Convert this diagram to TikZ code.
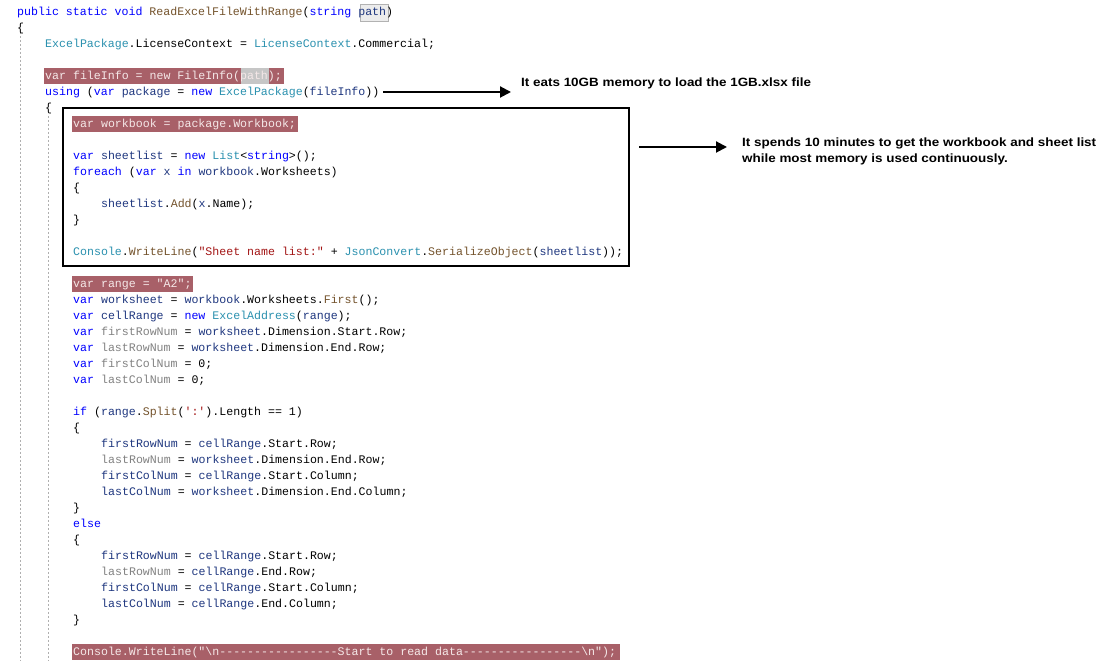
\documentclass[tikz,border=0pt]{standalone}
\usepackage{fontspec}
\usetikzlibrary{arrows.meta}
\newfontfamily\codefont{Liberation Mono}
\newfontfamily\notefont[FakeStretch=1.12]{Liberation Sans}
\definecolor{kw}{RGB}{0,0,255}
\definecolor{ty}{RGB}{43,145,175}
\definecolor{vr}{RGB}{31,55,127}
\definecolor{me}{RGB}{116,83,44}
\definecolor{st}{RGB}{163,21,21}
\definecolor{un}{RGB}{130,130,130}
\definecolor{hl}{RGB}{168,96,104}
\definecolor{hltext}{RGB}{245,232,232}
\definecolor{guide}{RGB}{175,175,175}
\newcommand\K[1]{\textcolor{kw}{#1}}
\newcommand\T[1]{\textcolor{ty}{#1}}
\newcommand\V[1]{\textcolor{vr}{#1}}
\newcommand\M[1]{\textcolor{me}{#1}}
\newcommand\St[1]{\textcolor{st}{#1}}
\newcommand\U[1]{\textcolor{un}{#1}}
\tikzset{
  code/.style={anchor=base west,inner sep=0pt,font=\codefont\fontsize{11.6}{14}\selectfont},
  hlcode/.style={code,text=hltext},
  note/.style={anchor=west,inner sep=0pt,align=left,font=\notefont\bfseries\fontsize{12}{16}\selectfont},
  arr/.style={line width=2pt,-{Triangle[length=11pt,width=11pt]}},
  guideline/.style={guide,dash pattern=on 2pt off 2pt,line width=0.8pt}
}
\begin{document}
\begin{tikzpicture}[x=1pt,y=1pt]
\useasboundingbox (0,0) rectangle (1114,661);
\fill[white] (0,0) rectangle (1114,661);
% guides
\draw[guideline] (20,661-32) -- (20,0);
\draw[guideline] (48,661-116) -- (48,0);
% highlight backgrounds: line n, col a, length L
\newcommand\HL[3]{\fill[hl] ({17+7*#2-1},{661-(12+16*#1)-8}) rectangle ({17+7*(#2+#3)+1},{661-(12+16*#1)+8});}
\HL{4}{4}{34}
\HL{7}{8}{32}
\HL{17}{8}{17}
\HL{40}{8}{78}
\fill[gray!45] ({17+7*32},{661-76-8}) rectangle ({17+7*36},{661-76+8});
\draw[gray!60,fill=gray!15] ({17+7*49},{661-12-9}) rectangle ({17+7*53},{661-12+8});
\newcommand\Ln[4]{\node[#4] (l#1) at ({17+7*#2},{661-(16+16*#1)}) {#3};}
\Ln{0}{0}{\K{public} \K{static} \K{void} \M{ReadExcelFileWithRange}(\K{string} \V{path})}{code}
\Ln{1}{0}{\{}{code}
\Ln{2}{4}{\T{ExcelPackage}.LicenseContext = \T{LicenseContext}.Commercial;}{code}
\Ln{4}{4}{var fileInfo = new FileInfo(path);}{hlcode}
\Ln{5}{4}{\K{using} (\K{var} \V{package} = \K{new} \T{ExcelPackage}(\V{fileInfo}))}{code}
\Ln{6}{4}{\{}{code}
\Ln{7}{8}{var workbook = package.Workbook;}{hlcode}
\Ln{9}{8}{\K{var} \V{sheetlist} = \K{new} \T{List}<\K{string}>();}{code}
\Ln{10}{8}{\K{foreach} (\K{var} \V{x} \K{in} \V{workbook}.Worksheets)}{code}
\Ln{11}{8}{\{}{code}
\Ln{12}{12}{\V{sheetlist}.\M{Add}(\V{x}.Name);}{code}
\Ln{13}{8}{\}}{code}
\Ln{15}{8}{\T{Console}.\M{WriteLine}(\St{"Sheet name list:"} + \T{JsonConvert}.\M{SerializeObject}(\V{sheetlist}));}{code}
\Ln{17}{8}{var range = "A2";}{hlcode}
\Ln{18}{8}{\K{var} \V{worksheet} = \V{workbook}.Worksheets.\M{First}();}{code}
\Ln{19}{8}{\K{var} \V{cellRange} = \K{new} \T{ExcelAddress}(\V{range});}{code}
\Ln{20}{8}{\K{var} \U{firstRowNum} = \V{worksheet}.Dimension.Start.Row;}{code}
\Ln{21}{8}{\K{var} \U{lastRowNum} = \V{worksheet}.Dimension.End.Row;}{code}
\Ln{22}{8}{\K{var} \U{firstColNum} = 0;}{code}
\Ln{23}{8}{\K{var} \U{lastColNum} = 0;}{code}
\Ln{25}{8}{\K{if} (\V{range}.\M{Split}(\St{':'}).Length == 1)}{code}
\Ln{26}{8}{\{}{code}
\Ln{27}{12}{\V{firstRowNum} = \V{cellRange}.Start.Row;}{code}
\Ln{28}{12}{\U{lastRowNum} = \V{worksheet}.Dimension.End.Row;}{code}
\Ln{29}{12}{\V{firstColNum} = \V{cellRange}.Start.Column;}{code}
\Ln{30}{12}{\V{lastColNum} = \V{worksheet}.Dimension.End.Column;}{code}
\Ln{31}{8}{\}}{code}
\Ln{32}{8}{\K{else}}{code}
\Ln{33}{8}{\{}{code}
\Ln{34}{12}{\V{firstRowNum} = \V{cellRange}.Start.Row;}{code}
\Ln{35}{12}{\U{lastRowNum} = \V{cellRange}.End.Row;}{code}
\Ln{36}{12}{\V{firstColNum} = \V{cellRange}.Start.Column;}{code}
\Ln{37}{12}{\V{lastColNum} = \V{cellRange}.End.Column;}{code}
\Ln{38}{8}{\}}{code}
\Ln{40}{8}{Console.WriteLine("\textbackslash n-----------------Start to read data-----------------\textbackslash n");}{hlcode}
% box
\draw[line width=2pt] (63,661-108) rectangle (629,661-266);
% notes
\node[note] (n1) at (521,661-83) {It eats 10GB memory to load the 1GB.xlsx file};
\node[note] (n2) at (742,661-151) {It spends 10 minutes to get the workbook and sheet list\\while most memory is used continuously.};
\coordinate (a1s) at (383,661-92);
\coordinate (a1e) at (511,661-92);
\coordinate (a2s) at (639,661-147);
\coordinate (a2e) at (727,661-147);
\draw[arr] (a1s) -- (a1e);
\draw[arr] (a2s) -- (a2e);
\end{tikzpicture}
\end{document}
